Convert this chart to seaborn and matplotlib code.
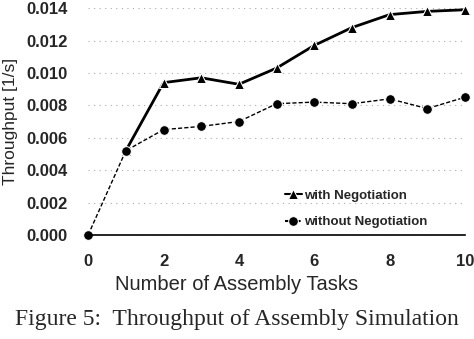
import matplotlib
matplotlib.use("Agg")
import matplotlib.pyplot as plt
import seaborn as sns
import pandas as pd
import numpy as np

tasks = [0, 1, 2, 3, 4, 5, 6, 7, 8, 9, 10]
with_negotiation = [np.nan, 0.0052, 0.0094, 0.0097, 0.0093, 0.0103, 0.0117, 0.0128, 0.0136, 0.0138, 0.0139]
without_negotiation = [0.0, 0.0052, 0.0065, 0.0067, 0.0070, 0.0081, 0.0082, 0.0081, 0.0084, 0.0078, 0.0085]
series_names = ["with Negotiation", "without Negotiation"]
y_ticks = [0.000, 0.002, 0.004, 0.006, 0.008, 0.010, 0.012, 0.014]
x_ticks = [0, 2, 4, 6, 8, 10]

df = pd.DataFrame({
    "tasks": tasks * 2,
    "throughput": with_negotiation + without_negotiation,
    "series": [series_names[0]] * len(tasks) + [series_names[1]] * len(tasks),
})

sns.set_theme(style="white")
plt.rcParams["font.family"] = ["Liberation Sans", "DejaVu Sans"]

fig = plt.figure(figsize=(4.74, 3.39), dpi=100)
ax = fig.add_axes([0.186, 0.307, 0.795, 0.669])

sns.lineplot(data=df, x="tasks", y="throughput", hue="series", style="series",
             palette=["black", "black"], markers=["^", "o"],
             dashes=[(None, None), (3, 1.5)], ax=ax, legend=True,
             markersize=7, clip_on=False)
for ln in ax.lines:
    ln.set_clip_on(False)
ax.lines[0].set_linewidth(2.0)
ax.lines[1].set_linewidth(1.0)

ax.set_xlim(0, 10)
ax.set_ylim(0, 0.014)
ax.set_xticks(x_ticks)
ax.set_yticks(y_ticks)
ax.set_yticklabels([f"{v:.3f}" for v in y_ticks])
ax.tick_params(axis="x", labelsize=12, length=0, pad=14)
ax.tick_params(axis="y", labelsize=12, length=0, pad=15)
for lab in ax.get_xticklabels() + ax.get_yticklabels():
    lab.set_fontweight("bold")
ax.grid(axis="y", linestyle=(0, (1, 4)), color="#aaaaaa", linewidth=0.8)
for s in ["top", "right", "left"]:
    ax.spines[s].set_visible(False)
ax.spines["bottom"].set_color("black")
ax.spines["bottom"].set_linewidth(1.2)
ax.set_xlabel("")
ax.set_ylabel("")

leg = ax.legend(loc="center left", bbox_to_anchor=(0.49, 0.115), frameon=False,
                fontsize=9.5, handlelength=1.3, handletextpad=0.2, labelspacing=1.1)
for t in leg.get_texts():
    t.set_fontweight("bold")

fig.text(0.5, 1 - 284 / 339, "Number of Assembly Tasks", ha="center", va="center", fontsize=14.5)
fig.text(0.023, 1 - 121 / 339, "Throughput [1/s]", ha="center", va="center", rotation=90, fontsize=12.5)
fig.text(0.5, 1 - 320 / 339, "Figure 5:  Throughput of Assembly Simulation", ha="center", va="center",
         fontsize=17, family=["Liberation Serif", "DejaVu Serif"])

fig.savefig("out.png", dpi=100)
